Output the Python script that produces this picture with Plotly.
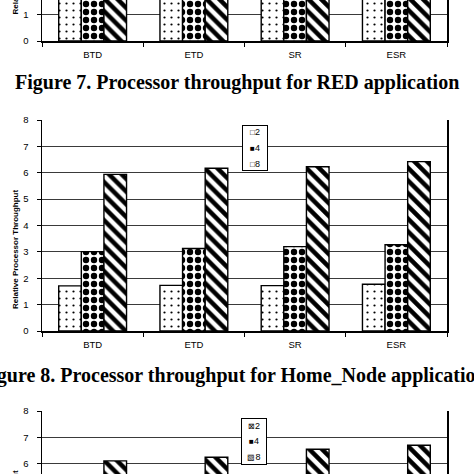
import plotly.graph_objects as go

W = H = 474

categories = ["BTD", "ETD", "SR", "ESR"]
series_names = ["2", "4", "8"]

# Figure 7 (RED application) - only the bottom of the chart is visible
red_2 = [1.75, 1.78, 1.77, 1.80]
red_4 = [3.10, 3.20, 3.30, 3.35]
red_8 = [6.00, 6.20, 6.30, 6.50]

# Figure 8 (Home_Node application)
home_2 = [1.71, 1.73, 1.72, 1.77]
home_4 = [3.01, 3.13, 3.20, 3.27]
home_8 = [5.94, 6.17, 6.23, 6.42]

# Figure 9 (next chart) - only the top of the chart is visible
next_2 = [1.75, 1.78, 1.80, 1.82]
next_4 = [3.20, 3.30, 3.40, 3.50]
next_8 = [6.11, 6.25, 6.55, 6.70]

caption_7 = "Figure 7. Processor throughput for RED application"
caption_8 = "Figure 8. Processor throughput for Home_Node application"
y_title = "Relative Processor Throughput"


def px(x):
    return x / W


def py(y):
    return 1 - y / H


patterns = [
    dict(shape=".", size=7, solidity=0.08, fgcolor="black", bgcolor="white", fillmode="replace"),
    dict(shape=".", size=8, solidity=0.5, fgcolor="black", bgcolor="white", fillmode="replace"),
    dict(shape="\\", size=9, solidity=0.5, fgcolor="black", bgcolor="white", fillmode="replace"),
]

fig = go.Figure()
groups = [
    ("x", "y", [red_2, red_4, red_8]),
    ("x2", "y2", [home_2, home_4, home_8]),
    ("x3", "y3", [next_2, next_4, next_8]),
]
for xa, ya, vals in groups:
    for name, v, pat in zip(series_names, vals, patterns):
        fig.add_trace(go.Bar(
            x=categories, y=v, name=name, xaxis=xa, yaxis=ya,
            marker=dict(color="white", pattern=pat, line=dict(color="black", width=1.4)),
            showlegend=False, hoverinfo="skip",
        ))

tickfont = dict(family="Liberation Sans, Arial", size=9.5, color="black")
xdom = [px(42), px(447)]

common_x = dict(
    domain=xdom, type="category", showline=True, linecolor="black", linewidth=1.5,
    ticks="outside", tickson="boundaries", ticklen=4, tickcolor="black",
    tickfont=tickfont, showgrid=False, ticklabelstandoff=4,
)
common_y = dict(
    showline=True, linecolor="black", linewidth=1.5, mirror=True,
    ticks="outside", ticklen=4, tickcolor="black", dtick=1,
    tickfont=tickfont, showgrid=True, gridcolor="#3a3a3a", gridwidth=1,
    zeroline=False, ticklabelstandoff=6,
)

fig.update_layout(
    width=W, height=H,
    margin=dict(l=0, r=0, t=0, b=0, autoexpand=False),
    paper_bgcolor="white", plot_bgcolor="white",
    barmode="group", bargap=0.33, bargroupgap=0,
    xaxis=dict(common_x, anchor="y"),
    yaxis=dict(common_y, domain=[py(41), 1], range=[0, 41 / 26.4], anchor="x"),
    xaxis2=dict(common_x, anchor="y2"),
    yaxis2=dict(common_y, domain=[py(331), py(120)], range=[0, 8], anchor="x2"),
    xaxis3=dict(common_x, anchor="y3", showline=False, showticklabels=False, ticks=""),
    yaxis3=dict(common_y, domain=[0, py(411)], range=[8 - 63 / 26.4, 8], anchor="x3"),
)

ann_font_cap = dict(family="Liberation Serif, Times New Roman", size=20, color="black")
ann_font_title = dict(family="Liberation Sans, Arial", size=8, color="black")
legend_font = dict(family="Liberation Sans, Arial", size=12, color="black")


def legend_text(symbols):
    return "<br>".join(
        "<span style='font-size:9px'><span style='font-size:8px'>" + s + "</span>" + n + "</span>"
        for s, n in zip(symbols, series_names)
    )


annotations = [
    dict(text="<b>" + caption_7 + "</b>", x=px(236.5), y=py(83), xref="paper", yref="paper",
         showarrow=False, font=ann_font_cap, xanchor="center", yanchor="middle"),
    dict(text="<b>" + caption_8 + "</b>", x=px(233), y=py(375), xref="paper", yref="paper",
         showarrow=False, font=ann_font_cap, xanchor="center", yanchor="middle"),
    # y-axis titles
    dict(text="<b>" + y_title + "</b>", x=px(15), y=py(17), xref="paper", yref="paper",
         showarrow=False, font=ann_font_title, textangle=-90, xanchor="center", yanchor="bottom"),
    dict(text="<b>" + y_title + "</b>", x=px(15), y=py(250), xref="paper", yref="paper",
         showarrow=False, font=ann_font_title, textangle=-90, xanchor="center", yanchor="middle"),
    dict(text="<b>" + y_title + "</b>", x=px(15), y=py(469), xref="paper", yref="paper",
         showarrow=False, font=ann_font_title, textangle=-90, xanchor="center", yanchor="top"),
    # legends
    dict(text=legend_text(["□", "■", "□"]),
         x=px(242), y=py(125), xref="paper", yref="paper", showarrow=False,
         font=legend_font, align="center", xanchor="left", yanchor="top",
         bordercolor="black", borderwidth=1, borderpad=0, bgcolor="white", width=24, height=44),
    dict(text=legend_text(["⊠", "■", "▧"]),
         x=px(241), y=py(418), xref="paper", yref="paper", showarrow=False,
         font=legend_font, align="center", xanchor="left", yanchor="top",
         bordercolor="black", borderwidth=1, borderpad=0, bgcolor="white", width=24, height=45),
]
fig.update_layout(annotations=annotations)

fig.write_html(
    "out.html",
    config={"displayModeBar": False, "staticPlot": True},
    post_script="document.body.style.margin='0';document.body.style.overflow='hidden';",
)
